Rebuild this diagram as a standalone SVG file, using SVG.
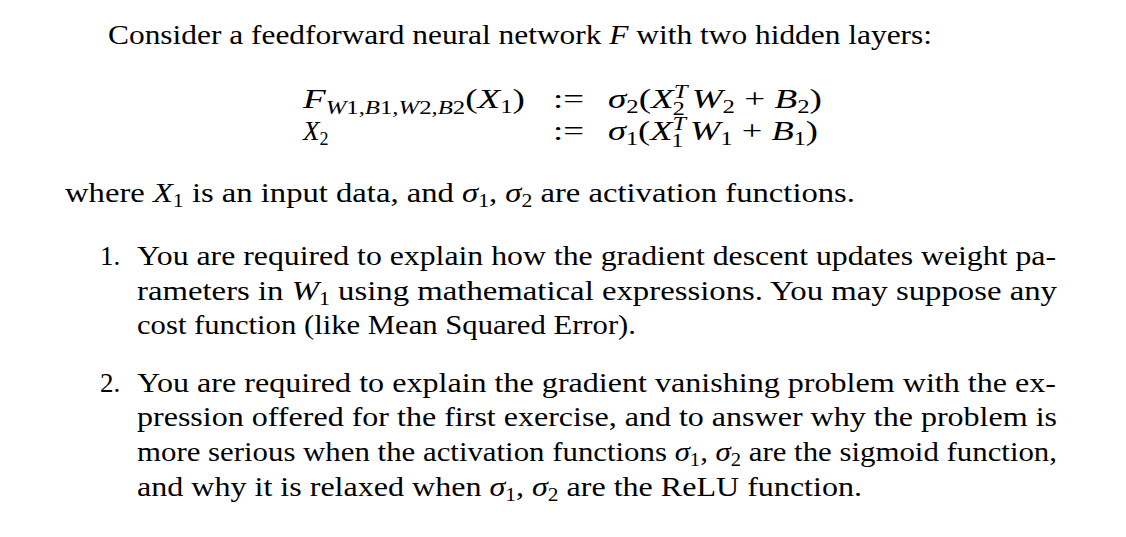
<svg xmlns="http://www.w3.org/2000/svg" width="1126" height="537" viewBox="0 0 1126 537">
<style>
text{font-family:"Liberation Serif","DejaVu Serif",serif;font-size:27px;fill:#000}
.i{font-style:italic}
.s{font-size:18px}
</style>
<rect width="1126" height="537" fill="#fff"/>
<text x="108" y="44" textLength="824" lengthAdjust="spacingAndGlyphs">Consider a feedforward neural network <tspan class="i">F</tspan> with two hidden layers:</text>
<text x="303" y="108" textLength="222" lengthAdjust="spacingAndGlyphs"><tspan class="i">F</tspan><tspan class="s i" dy="6">W</tspan><tspan class="s">1</tspan><tspan class="s">,</tspan><tspan class="s i">B</tspan><tspan class="s">1</tspan><tspan class="s">,</tspan><tspan class="s i">W</tspan><tspan class="s">2</tspan><tspan class="s">,</tspan><tspan class="s i">B</tspan><tspan class="s">2</tspan><tspan dy="-6">(</tspan><tspan class="i">X</tspan><tspan class="s" dy="5">1</tspan><tspan dy="-5">)</tspan></text>
<text x="553" y="108" textLength="31" lengthAdjust="spacingAndGlyphs">:=</text>
<text x="608" y="108" textLength="214" lengthAdjust="spacingAndGlyphs"><tspan class="i">σ</tspan><tspan class="s" dy="5">2</tspan><tspan dy="-5">(</tspan><tspan class="i">X</tspan><tspan class="s i" dy="-10">T</tspan><tspan class="s" dx="-11" dy="17">2</tspan><tspan class="i" dy="-7" dx="5">W</tspan><tspan class="s" dy="5">2</tspan><tspan dy="-5"> + </tspan><tspan class="i">B</tspan><tspan class="s" dy="5">2</tspan><tspan dy="-5">)</tspan></text>
<text x="303" y="140"><tspan class="i">X</tspan><tspan class="s" dy="5">2</tspan></text>
<text x="553" y="140" textLength="31" lengthAdjust="spacingAndGlyphs">:=</text>
<text x="608" y="140" textLength="210" lengthAdjust="spacingAndGlyphs"><tspan class="i">σ</tspan><tspan class="s" dy="5">1</tspan><tspan dy="-5">(</tspan><tspan class="i">X</tspan><tspan class="s i" dy="-10">T</tspan><tspan class="s" dx="-11" dy="17">1</tspan><tspan class="i" dy="-7" dx="5">W</tspan><tspan class="s" dy="5">1</tspan><tspan dy="-5"> + </tspan><tspan class="i">B</tspan><tspan class="s" dy="5">1</tspan><tspan dy="-5">)</tspan></text>
<text x="65" y="202" textLength="790" lengthAdjust="spacingAndGlyphs">where <tspan class="i">X</tspan><tspan class="s" dy="5">1</tspan><tspan dy="-5"> is an input data, and </tspan><tspan class="i">σ</tspan><tspan class="s" dy="5">1</tspan><tspan dy="-5">, </tspan><tspan class="i">σ</tspan><tspan class="s" dy="5">2</tspan><tspan dy="-5"> are activation functions.</tspan></text>
<text x="100" y="265">1.</text>
<text x="137" y="265" textLength="919" lengthAdjust="spacingAndGlyphs">You are required to explain how the gradient descent updates weight pa-</text>
<text x="137" y="300" textLength="920" lengthAdjust="spacingAndGlyphs">rameters in <tspan class="i">W</tspan><tspan class="s" dy="5">1</tspan><tspan dy="-5"> using mathematical expressions.  You may suppose any</tspan></text>
<text x="137" y="334" textLength="499" lengthAdjust="spacingAndGlyphs">cost function (like Mean Squared Error).</text>
<text x="100" y="392">2.</text>
<text x="137" y="392" textLength="919" lengthAdjust="spacingAndGlyphs">You are required to explain the gradient vanishing problem with the ex-</text>
<text x="137" y="426" textLength="920" lengthAdjust="spacingAndGlyphs">pression offered for the first exercise, and to answer why the problem is</text>
<text x="137" y="461" textLength="920" lengthAdjust="spacingAndGlyphs">more serious when the activation functions <tspan class="i">σ</tspan><tspan class="s" dy="5">1</tspan><tspan dy="-5">, </tspan><tspan class="i">σ</tspan><tspan class="s" dy="5">2</tspan><tspan dy="-5"> are the sigmoid function,</tspan></text>
<text x="137" y="496" textLength="725" lengthAdjust="spacingAndGlyphs">and why it is relaxed when <tspan class="i">σ</tspan><tspan class="s" dy="5">1</tspan><tspan dy="-5">, </tspan><tspan class="i">σ</tspan><tspan class="s" dy="5">2</tspan><tspan dy="-5"> are the ReLU function.</tspan></text>
</svg>
